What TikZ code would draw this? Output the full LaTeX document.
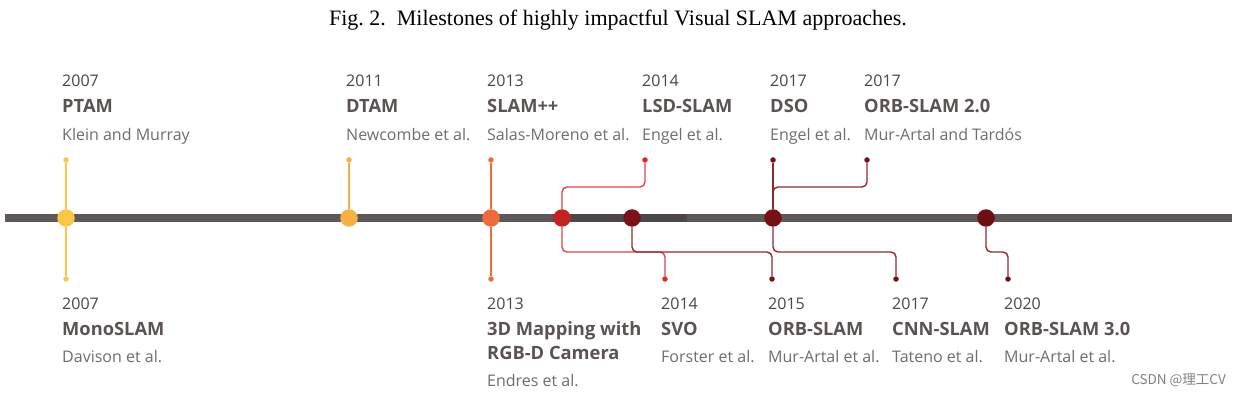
\documentclass[tikz,border=0pt]{standalone}
\usepackage{fontspec}
\setmainfont{Liberation Serif}
\newfontfamily\opensans{Open Sans}
\newfontfamily\cjkfont{Noto Sans CJK SC}

\definecolor{axisgray}{HTML}{5E5858}
\definecolor{axisdarkgray}{HTML}{4D4848}
\definecolor{c2007}{HTML}{F9C645}
\definecolor{c2011}{HTML}{F7B043}
\definecolor{c2013}{HTML}{EF6B3A}
\definecolor{c2014}{HTML}{C22220}
\definecolor{c2015}{HTML}{7A1317}
\definecolor{c2017}{HTML}{751014}
\definecolor{c2020}{HTML}{6C0E12}
\definecolor{l2014}{HTML}{DC4448}
\definecolor{l2017}{HTML}{8E2B2F}
\definecolor{t2014}{HTML}{E0282A}
\definecolor{textyear}{HTML}{4B4545}
\definecolor{textmethod}{HTML}{5B5252}
\definecolor{textauthor}{HTML}{716B6B}

\tikzset{
  axis/.style={draw=axisgray, line width=7.5pt},
  milestone/.style={circle, inner sep=0pt, minimum size=17.5pt, fill=#1},
  tip/.style={circle, inner sep=0pt, minimum size=5.5pt, fill=#1},
  link/.style={draw=#1, line width=1.4pt, rounded corners=5pt},
  yearlabel/.style={anchor=base west, inner sep=0pt, text=textyear,
    font=\opensans\fontsize{16}{19}\selectfont},
  methodlabel/.style={anchor=base west, inner sep=0pt, text=textmethod,
    font=\opensans\bfseries\fontsize{18.3}{22}\selectfont},
  authorlabel/.style={anchor=base west, inner sep=0pt, text=textauthor,
    font=\opensans\fontsize{16}{19}\selectfont},
}

\begin{document}
\begin{tikzpicture}[x=1pt, y=-1pt]
\useasboundingbox (0,0) rectangle (1241,395);
\node[anchor=base, inner sep=0pt, font=\fontsize{22}{26}\selectfont] (caption) at (618,26)
  {Fig.~2.\enspace Milestones of highly impactful Visual SLAM approaches.};

% timeline
\coordinate (start) at (5,218);
\coordinate (end) at (1232,218);
\coordinate (darkstart) at (553,218);
\coordinate (darkend) at (687,218);
\coordinate (upper) at (0,187);
\coordinate (lower) at (0,252);
\draw[axis] (start) -- (end);
\draw[axis, draw=axisdarkgray] (darkstart) -- (darkend);

% milestones on the line
\node[milestone=c2007] (d2007) at (66,218) {};
\node[milestone=c2011] (d2011) at (349,218) {};
\node[milestone=c2013] (d2013) at (491,218) {};
\node[milestone=c2014] (d2014) at (562,218) {};
\node[milestone=c2015] (d2015) at (632,218) {};
\node[milestone=c2017] (d2017) at (773,218) {};
\node[milestone=c2020] (d2020) at (986,218) {};

% end points
\node[tip=c2007] (ptamtip) at (66,160) {};
\node[tip=c2011] (dtamtip) at (349,160) {};
\node[tip=c2013] (slampptip) at (491,160) {};
\node[tip=t2014] (lsdtip) at (645,160) {};
\node[tip=c2017] (dsotip) at (773,160) {};
\node[tip=c2017] (orbtwotip) at (867,160) {};
\node[tip=c2007] (monotip) at (66,279) {};
\node[tip=c2013] (rgbdtip) at (491,279) {};
\node[tip=t2014] (svotip) at (665,279) {};
\node[tip=c2015] (orbtip) at (772,279) {};
\node[tip=c2017] (cnntip) at (896,279) {};
\node[tip=c2020] (orbthreetip) at (1008,279) {};

% connectors
\draw[link=c2007] (ptamtip) -- (d2007);
\draw[link=c2007] (d2007) -- (monotip);
\draw[link=c2011] (dtamtip) -- (d2011);
\draw[link=c2013] (slampptip) -- (d2013);
\draw[link=c2013] (d2013) -- (rgbdtip);
\draw[link=l2014] (d2014) |- (lsdtip |- upper) -- (lsdtip);
\draw[link=l2014] (d2014) |- (svotip |- lower) -- (svotip);
\draw[link=l2017] (d2015) |- (orbtip |- lower) -- (orbtip);
\draw[link=l2017] (d2017) -- (dsotip);
\draw[link=l2017] (d2017) |- (orbtwotip |- upper) -- (orbtwotip);
\draw[link=l2017] (d2017) |- (cnntip |- lower) -- (cnntip);
\draw[link=l2017] (d2020) |- (orbthreetip |- lower) -- (orbthreetip);

% labels above
\node[yearlabel] (ptamyear) at (62,87) {2007};
\node[methodlabel] (ptam) at (62,113) {PTAM};
\node[authorlabel] (ptamauthor) at (62,141) {Klein and Murray};
\node[yearlabel] (dtamyear) at (346,87) {2011};
\node[methodlabel] (dtam) at (346,113) {DTAM};
\node[authorlabel] (dtamauthor) at (346,141) {Newcombe et al.};
\node[yearlabel] (slamppyear) at (487,87) {2013};
\node[methodlabel] (slampp) at (487,113) {SLAM++};
\node[authorlabel] (slamppauthor) at (487,141) {Salas-Moreno et al.};
\node[yearlabel] (lsdyear) at (642,87) {2014};
\node[methodlabel] (lsd) at (642,113) {LSD-SLAM};
\node[authorlabel] (lsdauthor) at (642,141) {Engel et al.};
\node[yearlabel] (dsoyear) at (770,87) {2017};
\node[methodlabel] (dso) at (770,113) {DSO};
\node[authorlabel] (dsoauthor) at (770,141) {Engel et al.};
\node[yearlabel] (orbtwoyear) at (864,87) {2017};
\node[methodlabel] (orbtwo) at (864,113) {ORB-SLAM 2.0};
\node[authorlabel] (orbtwoauthor) at (864,141) {Mur-Artal and Tardós};

% labels below
\node[yearlabel] (monoyear) at (62,309) {2007};
\node[methodlabel] (mono) at (62,335) {MonoSLAM};
\node[authorlabel] (monoauthor) at (62,362) {Davison et al.};
\node[yearlabel] (rgbdyear) at (487,309) {2013};
\node[methodlabel] (rgbd) at (487,335) {3D Mapping with};
\node[methodlabel] (rgbdsecond) at (487,359) {RGB-D Camera};
\node[authorlabel] (rgbdauthor) at (487,386) {Endres et al.};
\node[yearlabel] (svoyear) at (661,309) {2014};
\node[methodlabel] (svo) at (661,335) {SVO};
\node[authorlabel] (svoauthor) at (661,362) {Forster et al.};
\node[yearlabel] (orbyear) at (768,309) {2015};
\node[methodlabel] (orb) at (768,335) {ORB-SLAM};
\node[authorlabel] (orbauthor) at (768,362) {Mur-Artal et al.};
\node[yearlabel] (cnnyear) at (892,309) {2017};
\node[methodlabel] (cnn) at (892,335) {CNN-SLAM};
\node[authorlabel] (cnnauthor) at (892,362) {Tateno et al.};
\node[yearlabel] (orbthreeyear) at (1004,309) {2020};
\node[methodlabel] (orbthree) at (1004,335) {ORB-SLAM 3.0};
\node[authorlabel] (orbthreeauthor) at (1004,362) {Mur-Artal et al.};

% watermark
\node[anchor=base east, inner sep=0pt, text=black!50, font=\cjkfont\fontsize{13.5}{16}\selectfont]
  (mark) at (1226,384) {CSDN @理工CV};
\end{tikzpicture}
\end{document}
